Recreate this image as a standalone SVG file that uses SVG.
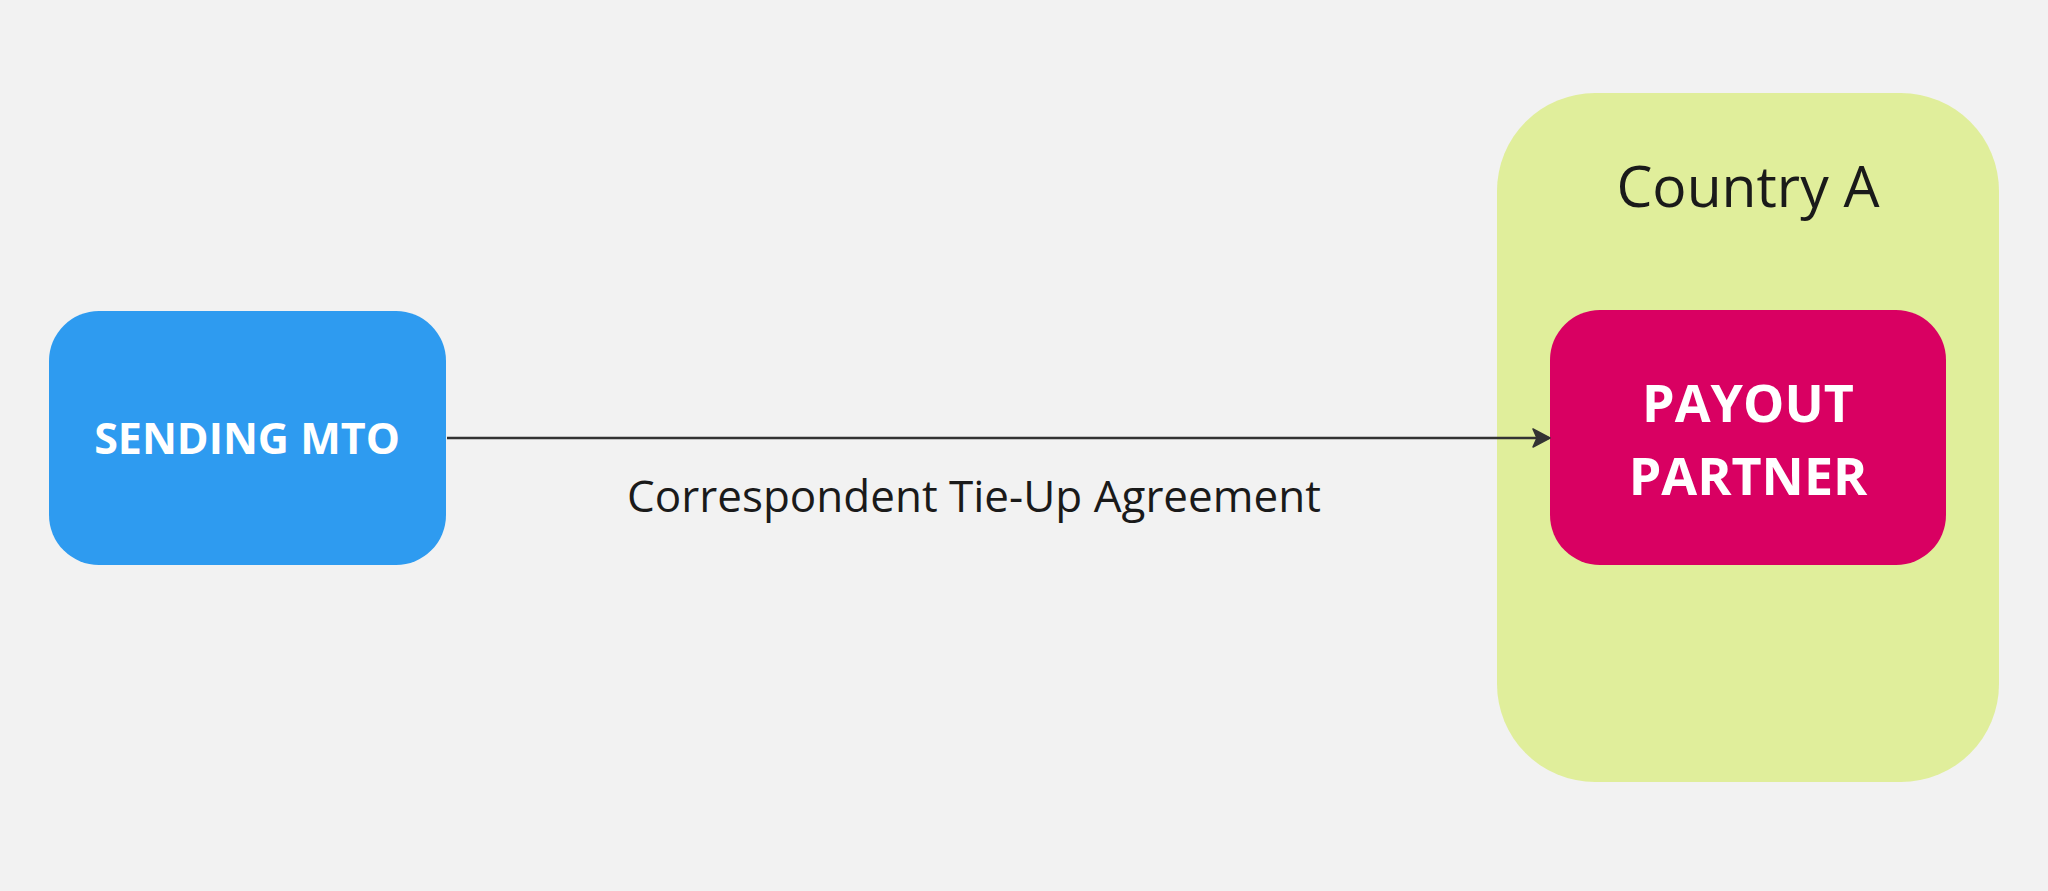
<svg xmlns="http://www.w3.org/2000/svg" width="2048" height="891" viewBox="0 0 2048 891">
  <style>
    .node-label { font-family: "Open Sans", "Liberation Sans", sans-serif; font-weight: 700; fill: #ffffff; text-anchor: middle; }
    .plain { font-family: "Open Sans", "Liberation Sans", sans-serif; font-weight: 400; fill: #1a1a1a; text-anchor: middle; }
    .edge { stroke: #333333; stroke-width: 2.5; fill: none; }
  </style>
  <defs>
    <marker id="arrow" viewBox="0 0 20 20" refX="18" refY="10" markerWidth="20" markerHeight="20" markerUnits="userSpaceOnUse" orient="auto">
      <path d="M2,1 L19,10 L2,19 L6,10 Z" fill="#333333" stroke="#333333" stroke-width="1.5" stroke-linejoin="round"/>
    </marker>
  </defs>
  <rect x="0" y="0" width="2048" height="891" fill="#f2f2f2"/>

  <g id="country-a">
    <rect x="1497" y="93" width="502" height="689" rx="98" ry="98" fill="#e0ee9b"/>
    <text class="plain" x="1748" y="207" font-size="57">Country A</text>
  </g>

  <g id="sending-mto">
    <rect x="49" y="311" width="397" height="254" rx="50" ry="50" fill="#2e9bf0"/>
    <text class="node-label" x="247" y="454" font-size="43">SENDING MTO</text>
  </g>

  <g id="payout-partner">
    <rect x="1550" y="310" width="396" height="255" rx="50" ry="50" fill="#d90062"/>
    <text class="node-label" x="1748" y="422" font-size="52">PAYOUT</text>
    <text class="node-label" x="1748" y="495" font-size="52">PARTNER</text>
  </g>

  <g id="connectors">
    <line class="edge" x1="447" y1="438" x2="1549" y2="438" marker-end="url(#arrow)"/>
    <text class="plain" x="974" y="512" font-size="44">Correspondent Tie-Up Agreement</text>
  </g>
</svg>
